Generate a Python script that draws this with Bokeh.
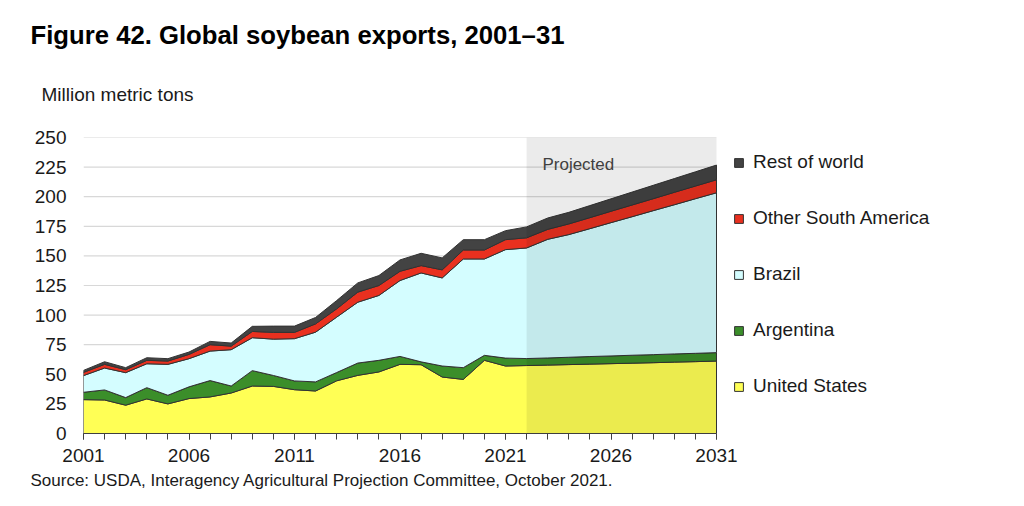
import numpy as np
from bokeh.plotting import figure
from bokeh.models import (Range1d, FixedTicker, Legend, LegendItem,
                          BoxAnnotation, Label, Title)
from bokeh.embed import file_html
from bokeh.resources import INLINE

# Global soybean exports by origin, million metric tons
years = list(range(2001, 2032))
united_states = [28.6, 28.3, 23.9, 29.2, 25.0, 29.5, 30.9, 34.2, 40.1, 39.8,
                 37.0, 35.9, 44.5, 49.1, 52.0, 58.4, 58.1, 47.7, 45.7, 61.8,
                 57.0, 57.4, 57.8, 58.2, 58.6, 59.0, 59.4, 59.8, 60.3, 60.7, 61.2]
argentina = [6.2, 8.5, 6.4, 9.5, 7.3, 9.9, 13.8, 5.9, 13.0, 9.2,
             7.4, 7.7, 7.0, 10.4, 9.8, 6.7, 2.4, 9.3, 9.9, 4.2,
             6.7, 5.9, 6.0, 6.2, 6.4, 6.5, 6.7, 6.8, 6.9, 7.0, 7.1]
brazil = [14.1, 18.5, 21.1, 20.2, 26.1, 23.8, 24.9, 30.7, 27.8, 30.7,
          35.7, 42.0, 46.8, 51.4, 54.8, 64.1, 75.1, 74.4, 91.8, 81.4,
          91.6, 93.4, 100.2, 103.6, 108.0, 112.6, 117.0, 121.6, 126.0, 130.6, 135.0]
other_south_america = [2.7, 3.1, 2.5, 2.9, 2.8, 3.6, 5.4, 3.0, 5.3, 5.7,
                       5.3, 7.0, 7.0, 8.5, 8.4, 7.8, 6.2, 6.8, 7.6, 7.6,
                       8.4, 8.6, 8.4, 9.0, 9.3, 9.6, 9.9, 10.1, 10.5, 10.7, 11.0]
rest_of_world = [1.7, 2.2, 1.7, 2.2, 2.0, 2.0, 2.8, 2.6, 4.3, 5.3,
                 5.3, 5.4, 7.0, 7.8, 8.4, 9.6, 10.4, 10.1, 8.7, 8.7,
                 7.6, 9.2, 9.6, 9.8, 10.2, 10.5, 10.9, 11.3, 11.6, 12.0, 12.4]
series_names = ["United States", "Argentina", "Brazil",
                "Other South America", "Rest of world"]
series_values = [united_states, argentina, brazil,
                 other_south_america, rest_of_world]
projection_start = 2022
x_tick_years = [2001, 2006, 2011, 2016, 2021, 2026, 2031]
y_ticks = [0, 25, 50, 75, 100, 125, 150, 175, 200, 225, 250]

fill_colors = ["#FFFF55", "#3B8E2A", "#D4FDFF", "#E9301F", "#434343"]
FONT = "Liberation Sans"
TEXT = "#1a1a1a"

# layout in pixels: plotting area 633 px wide; the frame runs on to the
# right edge so that the legend can sit beside the areas
W, H = 1024, 506
LEFT, TOP, BOTTOM = 83, 137, 73
AREA_W = 633
frame_w = W - LEFT
x_end = years[0] + (years[-1] - years[0]) * frame_w / AREA_W

p = figure(width=W, height=H, output_backend="svg", toolbar_location=None,
           title=None,
           x_range=Range1d(years[0], x_end),
           y_range=Range1d(y_ticks[0], y_ticks[-1]),
           min_border_left=LEFT, min_border_right=0,
           min_border_top=TOP, min_border_bottom=BOTTOM)
p.outline_line_color = None
p.background_fill_color = "white"
p.border_fill_color = "white"

# horizontal gridlines across the plotting area only
p.xgrid.visible = False
p.ygrid.visible = False
p.segment(x0=[years[0]] * len(y_ticks), x1=[years[-1]] * len(y_ticks),
          y0=y_ticks, y1=y_ticks, line_color="#d8d8d8", line_width=1.2,
          level="underlay")

# stacked areas, bottom to top
bottom = np.zeros(len(years))
renderers = {}
for name, vals, color in zip(series_names, series_values, fill_colors):
    top = bottom + np.asarray(vals, dtype=float)
    xs = years + years[::-1]
    ys = list(top) + list(bottom[::-1])
    renderers[name] = p.patch(xs, ys, fill_color=color, line_color="#333333",
                              line_width=1)
    bottom = top

# shaded projection period
p.add_layout(BoxAnnotation(left=projection_start, right=years[-1],
                           bottom=y_ticks[0], top=y_ticks[-1],
                           fill_color="black", fill_alpha=0.08,
                           line_color=None))
p.add_layout(Label(x=projection_start + 0.75, y=227.5, text="Projected",
                   text_font=FONT, text_font_size="17px",
                   text_color="#404040", text_baseline="alphabetic"))

# x axis
xa = p.xaxis[0]
xa.bounds = (years[0], years[-1])
xa.ticker = FixedTicker(ticks=x_tick_years, minor_ticks=years)
xa.axis_line_color = "#404040"
xa.major_tick_line_color = "#404040"
xa.minor_tick_line_color = "#404040"
xa.major_tick_in = 0
xa.major_tick_out = 6
xa.minor_tick_in = 0
xa.minor_tick_out = 6
xa.major_label_standoff = 9
xa.major_label_text_font = FONT
xa.major_label_text_font_size = "19px"
xa.major_label_text_color = TEXT

# y axis
ya = p.yaxis[0]
ya.ticker = FixedTicker(ticks=y_ticks)
ya.axis_line_color = None
ya.major_tick_line_color = None
ya.minor_tick_line_color = None
ya.major_tick_in = 0
ya.major_tick_out = 0
ya.major_label_standoff = 17
ya.major_label_text_font = FONT
ya.major_label_text_font_size = "19px"
ya.major_label_text_color = TEXT

# legend, top entry is the top of the stack
legend = Legend(items=[LegendItem(label=n, renderers=[renderers[n]])
                       for n in reversed(series_names)],
                location=(650, 36), orientation="vertical",
                glyph_width=11, glyph_height=11, label_standoff=9,
                label_text_font=FONT, label_text_font_size="19px",
                label_text_color=TEXT, label_height=22,
                spacing=34, padding=0, margin=0,
                border_line_color=None, background_fill_alpha=0)
p.add_layout(legend)

# titles (nearest to the plot first) and source note
p.add_layout(Title(text="Million metric tons", align="left", offset=-42,
                   standoff=66, text_font=FONT, text_font_style="normal",
                   text_font_size="19px", text_color=TEXT), "above")
p.add_layout(Title(text="Figure 42. Global soybean exports, 2001\u201331",
                   align="left", offset=-53, standoff=0,
                   text_font=FONT, text_font_style="bold",
                   text_font_size="25.7px", text_color="black"), "above")
p.add_layout(Title(text="Source: USDA, Interagency Agricultural Projection "
                        "Committee, October 2021.",
                   align="left", offset=-53, standoff=8,
                   text_font=FONT, text_font_style="normal",
                   text_font_size="17px", text_color=TEXT), "below")

open("out.html", "w").write(file_html(p, INLINE))
